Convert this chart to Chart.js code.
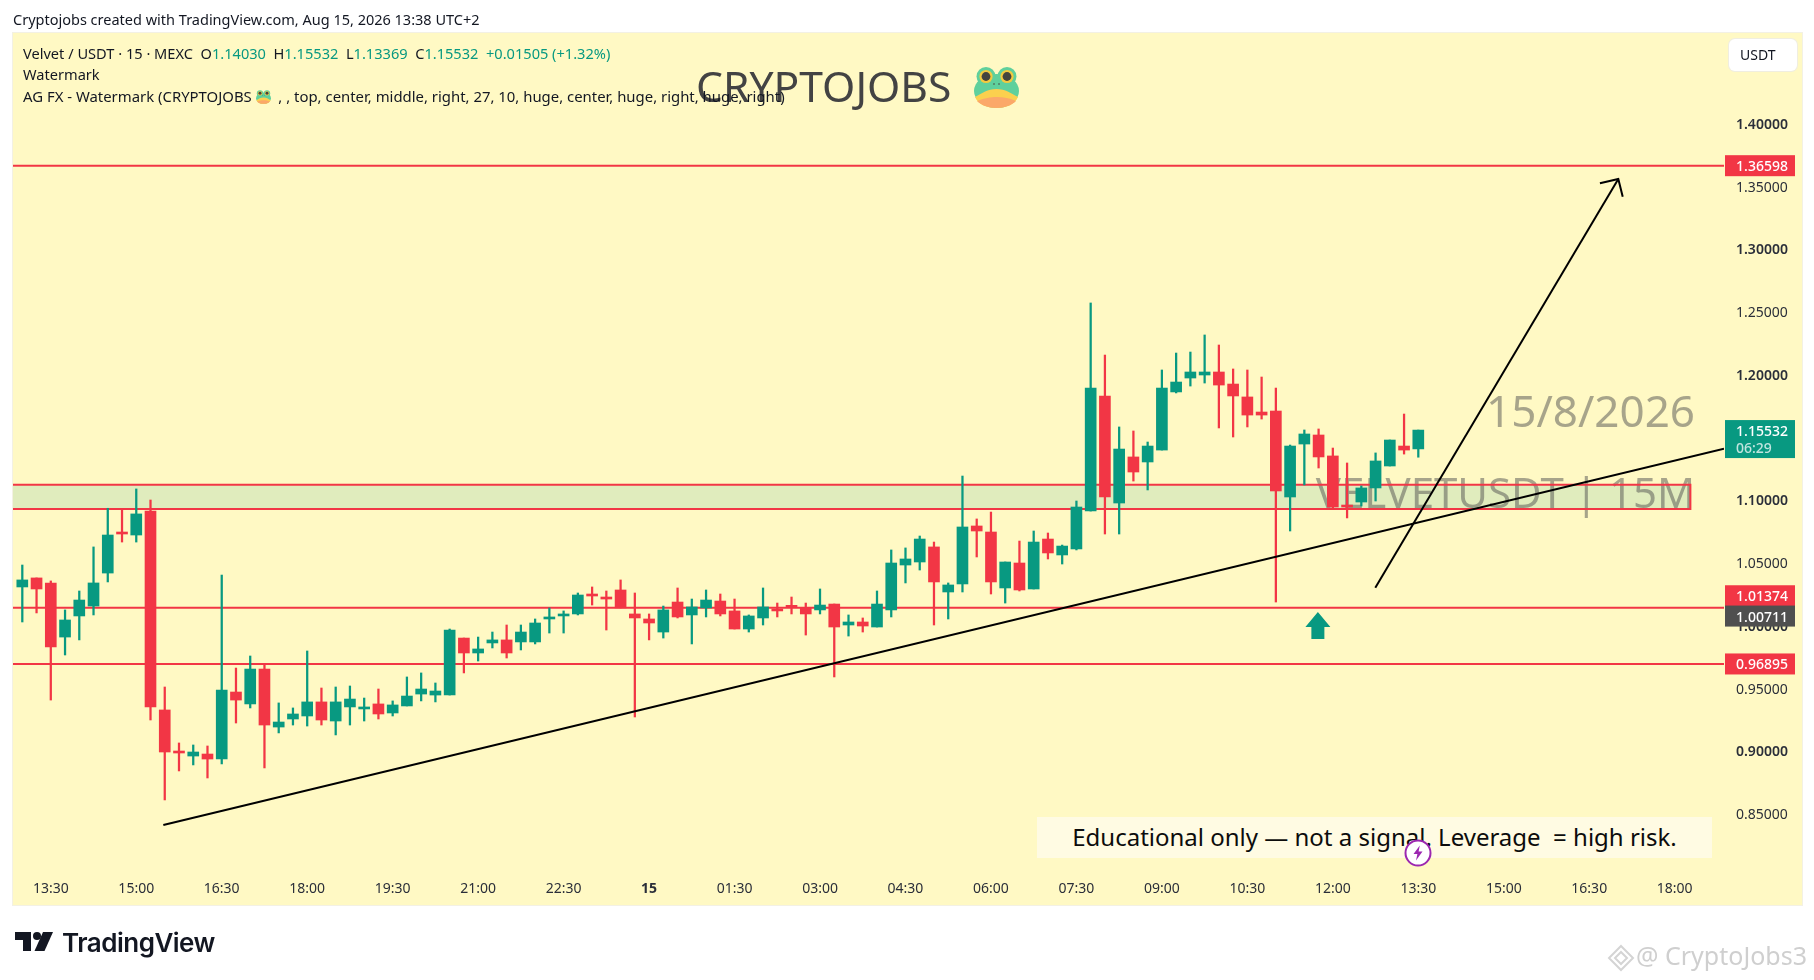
<!DOCTYPE html>
<html>
<head>
<meta charset="utf-8">
<title>Velvet / USDT</title>
<script src="https://cdn.jsdelivr.net/npm/chart.js@4/dist/chart.umd.js"></script>
<style>
  html, body { margin: 0; padding: 0; background: #fff; width: 1814px; height: 980px; overflow: hidden; }
  body { font-family: "Noto Sans", sans-serif; color: #131722; position: relative; }
  .abs { position: absolute; white-space: pre; line-height: 1; }
  #pane { left: 13px; top: 33px; width: 1789px; height: 872px; background: #fff9c4; box-shadow: 0 0 0 1px #f3f1e4; }
  #chart { position: absolute; left: 0; top: 0; }
  .up { color: #089981; }
  #usdt { left: 1729px; top: 39px; width: 68px; height: 32px; background: #fff; border-radius: 6px; box-shadow: 0 0 0 1px #f0eee0; font-size: 14px; line-height: 32px; text-indent: 11px; }
  #edu { left: 1037px; top: 817px; width: 675px; height: 41px; background: #fffbe3; font-size: 24px; line-height: 39px; text-align: center; color: #0c0c0c; }
</style>
</head>
<body>
<svg width="0" height="0" style="position:absolute">
  <defs>
    <symbol id="frog" viewBox="0 0 45 41">
      <ellipse cx="22.5" cy="24" rx="22.5" ry="17" fill="#5fd09c"/>
      <circle cx="12" cy="9.5" r="9.5" fill="#5fd09c"/>
      <circle cx="33" cy="9.5" r="9.5" fill="#5fd09c"/>
      <circle cx="12" cy="9.5" r="6.6" fill="#f3c93f"/>
      <circle cx="33" cy="9.5" r="6.6" fill="#f3c93f"/>
      <circle cx="12" cy="9.5" r="4.4" fill="#44433f"/>
      <circle cx="33" cy="9.5" r="4.4" fill="#44433f"/>
      <circle cx="20" cy="17" r=".8" fill="#44433f"/>
      <circle cx="25" cy="17" r=".8" fill="#44433f"/>
      <path d="M1 30 C9 26 13 22 22.5 22 C32 22 36 26 44 30 C41 37 33 41 22.5 41 C12 41 4 37 1 30Z" fill="#fbd04e"/>
      <path d="M3 34 C11 31 16 30 23 30 C30 30 35 31 42 34 C38 38 31 41 22.5 41 C14 41 7 38 3 34Z" fill="#fba869"/>
    </symbol>
  </defs>
</svg>

<div class="abs" id="pane"></div>
<canvas id="chart" width="1814" height="980"></canvas>

<div class="abs" style="left:13px;top:12px;font-size:14.5px">Cryptojobs created with TradingView.com, Aug 15, 2026 13:38 UTC+2</div>
<div class="abs" style="left:696px;top:64px;font-size:42.6px;color:#434343">CRYPTOJOBS</div>
<svg class="abs" style="left:974px;top:67px" width="45" height="41"><use href="#frog"/></svg>
<div class="abs" style="left:23px;top:46px;font-size:14.6px">Velvet / USDT · 15 · MEXC  O<span class="up">1.14030</span>  H<span class="up">1.15532</span>  L<span class="up">1.13369</span>  C<span class="up">1.15532</span>  <span class="up">+0.01505 (+1.32%)</span></div>
<div class="abs" style="left:23px;top:67px;font-size:14.6px">Watermark</div>
<div class="abs" style="left:23px;top:89px;font-size:14.9px">AG FX - Watermark (CRYPTOJOBS <svg width="15" height="14" viewBox="0 0 15 14" style="vertical-align:-2px"><use href="#frog" width="15" height="14"/></svg>  , , top, center, middle, right, 27, 10, huge, center, huge, right, huge, right)</div>
<div class="abs" id="usdt">USDT</div>
<div class="abs" id="edu">Educational only — not a signal. Leverage  = high risk.</div>

<svg class="abs" style="left:1404px;top:839px" width="28" height="28" viewBox="0 0 28 28">
  <circle cx="14" cy="14" r="12.5" fill="#fff" stroke="#9c27b0" stroke-width="2"/>
  <path d="M15.8 6.5 L9.5 15 H13.4 L12 21.5 L18.5 12.6 H14.6 Z" fill="#9c27b0"/>
</svg>

<svg class="abs" style="left:15px;top:932px" width="38" height="20" viewBox="0 0 38 20">
  <path d="M0 0 H16 V19 H8 V8 H0 Z" fill="#131722"/>
  <circle cx="22" cy="4" r="4" fill="#131722"/>
  <path d="M28 0 H38 L29.5 19 H19.5 Z" fill="#131722"/>
</svg>
<div class="abs" style="left:62px;top:930px;font-size:26px;font-weight:600;font-family:Inter,sans-serif;letter-spacing:-.5px;color:#131722">TradingView</div>

<svg class="abs" style="left:1607px;top:944px" width="28" height="28" viewBox="0 0 28 28" fill="none" stroke="#d4d4d4" stroke-width="2">
  <path d="M14 2 L26 14 L14 26 L2 14 Z"/>
  <path d="M14 8 L20 14 L14 20 L8 14 Z"/>
</svg>
<div class="abs" style="right:7px;top:943px;font-size:25px;color:#cfcfcf">@ CryptoJobs3</div>

<script>
// candles, 15 min bars starting 13:00
const opens = [
  1.0303,1.0375,1.0335,0.9904,1.0072,1.0151,1.0414,1.0733,1.0717,1.0908,
  0.9323,0.8988,0.8956,0.8972,0.8932,0.9466,0.9371,0.9649,0.9187,0.9251,
  0.9275,0.9387,0.9235,0.9347,0.9331,0.9371,0.9299,0.9355,0.9450,0.9442,
  0.9442,0.9896,0.9777,0.9857,0.9881,0.9865,0.9865,1.0048,1.0072,1.0088,
  1.0239,1.0223,1.0279,1.0088,1.0048,0.9944,1.0183,1.0080,1.0136,1.0191,
  1.0112,0.9968,1.0056,1.0120,1.0151,1.0136,1.0120,1.0167,1.0000,1.0024,
  0.9984,1.0120,1.0478,1.0502,1.0622,1.0263,1.0327,1.0789,1.0741,1.0295,
  1.0494,1.0287,1.0685,1.0558,1.0606,1.0908,1.1825,1.0972,1.1339,1.1299,
  1.1394,1.1857,1.1968,1.1992,1.2016,1.1920,1.1817,1.1697,1.1705,1.1020,
  1.1442,1.1514,1.1347,1.0948,1.0980,1.1092,1.1267,1.1426,1.14030
];
const highs = [
  1.0478,1.0375,1.0351,1.0120,1.0271,1.0622,1.0930,1.0924,1.1084,1.0996,
  0.9506,0.9060,0.9044,0.9036,1.0398,0.9657,0.9753,0.9689,0.9379,0.9339,
  0.9793,0.9498,0.9506,0.9514,0.9418,0.9490,0.9395,0.9586,0.9618,0.9538,
  0.9968,0.9896,0.9904,0.9944,1.0000,1.0000,1.0048,1.0136,1.0112,1.0255,
  1.0303,1.0271,1.0359,1.0255,1.0088,1.0151,1.0295,1.0207,1.0279,1.0247,
  1.0207,1.0080,1.0295,1.0175,1.0223,1.0175,1.0287,1.0167,1.0080,1.0056,
  1.0271,1.0598,1.0614,1.0709,1.0661,1.0335,1.1187,1.0845,1.0900,1.0502,
  1.0669,1.0749,1.0733,1.0637,1.0988,1.2566,1.2151,1.1578,1.1546,1.1458,
  1.2032,1.2167,1.2175,1.2311,1.2231,1.2040,1.2032,1.1976,1.1888,1.1434,
  1.1554,1.1562,1.1410,1.1291,1.1108,1.1371,1.1474,1.1681,1.15532
];
const lows = [
  1.0024,1.0096,0.9402,0.9761,0.9881,1.0080,1.0343,1.0661,1.0661,0.9243,
  0.8606,0.8837,0.8885,0.8781,0.8893,0.9219,0.9339,0.8861,0.9140,0.9203,
  0.9195,0.9203,0.9124,0.9203,0.9235,0.9251,0.9275,0.9355,0.9395,0.9387,
  0.9442,0.9618,0.9713,0.9817,0.9737,0.9801,0.9849,0.9936,0.9936,1.0080,
  1.0159,0.9960,1.0136,0.9267,0.9881,0.9896,1.0056,0.9849,1.0064,1.0072,
  0.9968,0.9944,1.0000,1.0064,1.0088,0.9920,1.0088,0.9586,0.9912,0.9944,
  0.9984,1.0064,1.0335,1.0438,1.0000,1.0048,1.0263,1.0542,1.0247,1.0175,
  1.0271,1.0287,1.0526,1.0486,1.0598,1.0908,1.0725,1.0725,1.1147,1.1076,
  1.1394,1.1849,1.1904,1.1928,1.1570,1.1498,1.1578,1.1641,1.0183,1.0749,
  1.1116,1.1251,1.0924,1.0853,1.0948,1.0988,1.1267,1.1362,1.13369
];
const closes = [
  1.0359,1.0287,0.9825,1.0040,1.0199,1.0335,1.0717,1.0725,1.0885,0.9347,
  0.8988,0.8980,0.8988,0.8932,0.9482,0.9402,0.9649,0.9203,0.9227,0.9291,
  0.9387,0.9243,0.9387,0.9410,0.9339,0.9291,0.9363,0.9434,0.9490,0.9474,
  0.9960,0.9777,0.9809,0.9881,0.9777,0.9944,1.0016,1.0064,1.0080,1.0239,
  1.0231,1.0207,1.0136,1.0056,1.0016,1.0120,1.0064,1.0144,1.0199,1.0088,
  0.9968,1.0072,1.0144,1.0112,1.0141,1.0088,1.0159,0.9984,1.0024,0.9992,
  1.0167,1.0494,1.0526,1.0685,1.0343,1.0319,1.0781,1.0749,1.0343,1.0502,
  1.0279,1.0661,1.0574,1.0629,1.0940,1.1888,1.1020,1.1402,1.1219,1.1426,
  1.1888,1.1936,1.2016,1.2016,1.1912,1.1825,1.1673,1.1673,1.1068,1.1426,
  1.1522,1.1339,1.0940,1.0940,1.1092,1.1307,1.1474,1.1394,1.15532
];

// axes
const timeLabels = ['13:30','15:00','16:30','18:00','19:30','21:00','22:30','15','01:30','03:00',
  '04:30','06:00','07:30','09:00','10:30','12:00','13:30','15:00','16:30','18:00'];
const priceTicks = [0.85,0.90,0.95,1.00,1.05,1.10,1.15,1.20,1.25,1.30,1.35,1.40];

// drawings, [bar index, price]
const levels = [1.36598, 1.01374, 0.96895];
const zoneTop = 1.1118;
const zoneBottom = 1.0924;
const trendLine = [[9.90, 0.8406], [119.46, 1.1405]];
const arrowLine = [[94.98, 1.0297], [112.04, 1.3554]];
const arrowHead = [[110.75, 1.3520], [112.04, 1.3554], [112.35, 1.3413]];
const upMark = [90.95, 1.0104];

// price tags
const tagPrices = [1.36598, 1.01374, 1.00711, 0.96895];
const tagColors = ['#f23645', '#f23645', '#4f4f4f', '#f23645'];
const tagShifts = [0, -12, 0, 0];
const lastPrice = 1.15532;
const countdown = '06:29';

const GREEN = '#089981';
const RED = '#f23645';
const FONT = '"Noto Sans", sans-serif';
const X_MIN = -0.653;
const X_MAX = 119.46;
const ZONE_END = 117.1;

const colors = closes.map((c, i) => c >= opens[i] ? GREEN : RED);
const wicks = highs.map((h, i) => ({ x: i, y: [lows[i], h] }));
const bodies = opens.map((o, i) => ({ x: i, y: [Math.min(o, closes[i]), Math.max(o, closes[i])] }));
const pts = list => list.map(p => ({ x: p[0], y: p[1] }));
const zoneShape = pts([[X_MIN, zoneTop], [ZONE_END, zoneTop], [ZONE_END, zoneBottom], [X_MIN, zoneBottom]]);

const line = (data, color, order, extra) => Object.assign({
  type: 'line', data, borderColor: color, borderWidth: 2, pointRadius: 0, tension: 0, fill: false, order
}, extra);

const datasets = [
  line(zoneShape, 'transparent', 7, { fill: 'shape', backgroundColor: '#e0ecbd', borderWidth: 0 }),
  line(zoneShape, RED, 5),
  ...levels.map(v => line(pts([[X_MIN, v], [X_MAX, v]]), RED, 5)),
  { type: 'bar', data: wicks, backgroundColor: colors, barThickness: 1.6, grouped: false, order: 4 },
  { type: 'bar', data: bodies, backgroundColor: colors, barThickness: 11, grouped: false, minBarLength: 2, order: 3 },
  line(pts(trendLine), '#000', 1),
  line(pts(arrowLine), '#000', 1),
  line(pts(arrowHead), '#000', 1)
];

// big gray labels go over the zone fill but under everything else
const watermarkPlugin = {
  id: 'watermark',
  afterDatasetDraw(chart, args) {
    if (args.index !== 0) return;
    const ctx = chart.ctx;
    ctx.save();
    ctx.fillStyle = 'rgba(80,80,80,.5)';
    ctx.textAlign = 'right';
    ctx.textBaseline = 'middle';
    ctx.font = '44px ' + FONT;
    ctx.fillText('15/8/2026', 1695, 414);
    ctx.font = '42px ' + FONT;
    ctx.fillText('VELVETUSDT | 15M', 1695, 496);
    ctx.restore();
  }
};

const tagPlugin = {
  id: 'tags',
  afterDraw(chart) {
    const ctx = chart.ctx, x = chart.scales.x, y = chart.scales.y;
    ctx.save();
    // up arrow under the last dip
    const ax = x.getPixelForValue(upMark[0]), ay = y.getPixelForValue(upMark[1]);
    ctx.fillStyle = GREEN;
    ctx.beginPath();
    ctx.moveTo(ax, ay);
    ctx.lineTo(ax + 12.5, ay + 15);
    ctx.lineTo(ax + 6.5, ay + 15);
    ctx.lineTo(ax + 6.5, ay + 27);
    ctx.lineTo(ax - 6.5, ay + 27);
    ctx.lineTo(ax - 6.5, ay + 15);
    ctx.lineTo(ax - 12.5, ay + 15);
    ctx.closePath();
    ctx.fill();

    ctx.font = '500 14px ' + FONT;
    ctx.textAlign = 'center';
    ctx.textBaseline = 'middle';
    tagPrices.forEach((p, i) => {
      const cy = y.getPixelForValue(p) + tagShifts[i];
      ctx.fillStyle = tagColors[i];
      ctx.fillRect(1725, cy - 10.5, 70, 21);
      ctx.fillStyle = '#fff';
      ctx.fillText(p.toFixed(5), 1762, cy + 1.5);
    });
    const ly = y.getPixelForValue(lastPrice);
    ctx.fillStyle = GREEN;
    ctx.fillRect(1725, ly - 10, 70, 38);
    ctx.fillStyle = '#fff';
    ctx.fillText(lastPrice.toFixed(5), 1762, ly + 2);
    ctx.fillStyle = 'rgba(255,255,255,.75)';
    ctx.textAlign = 'left';
    ctx.fillText(countdown, 1736, ly + 19);
    ctx.restore();
  }
};

const xTickFont = c => ({
  family: FONT, size: 14,
  weight: c.tick && timeLabels[(c.tick.value - 2) / 6] === '15' ? '700' : '400'
});
// the tiny lineHeight with an empty first line nudges the price labels 2px down
const yTickFont = c => ({
  family: FONT, size: 14, lineHeight: 0.28,
  weight: c.tick && Math.round(c.tick.value * 100) % 10 === 0 ? '600' : '400'
});

new Chart(document.getElementById('chart'), {
  type: 'bar',
  data: { datasets },
  plugins: [watermarkPlugin, tagPlugin],
  options: {
    responsive: false,
    animation: false,
    events: [],
    layout: { padding: { left: 13, right: 12, top: 33, bottom: 75 } },
    plugins: { legend: { display: false }, tooltip: { enabled: false } },
    scales: {
      x: {
        type: 'linear',
        min: X_MIN,
        max: X_MAX,
        offset: false,
        grid: { display: false, drawTicks: false },
        border: { display: false },
        afterFit: s => { s.height = 35; },
        afterBuildTicks: s => { s.ticks = timeLabels.map((t, i) => ({ value: 2 + i * 6 })); },
        ticks: {
          autoSkip: false,
          maxRotation: 0,
          padding: 11,
          color: '#2a2e39',
          font: xTickFont,
          callback: v => timeLabels[(v - 2) / 6]
        }
      },
      y: {
        position: 'right',
        min: 0.80478,
        max: 1.47171,
        grid: { display: false, drawTicks: false },
        border: { display: false },
        afterFit: s => { s.width = 78; },
        afterBuildTicks: s => { s.ticks = priceTicks.map(v => ({ value: v })); },
        ticks: {
          autoSkip: false,
          padding: 12,
          color: '#2a2e39',
          font: yTickFont,
          callback: v => ['', v.toFixed(5)]
        }
      }
    }
  }
});
</script>
</body>
</html>
